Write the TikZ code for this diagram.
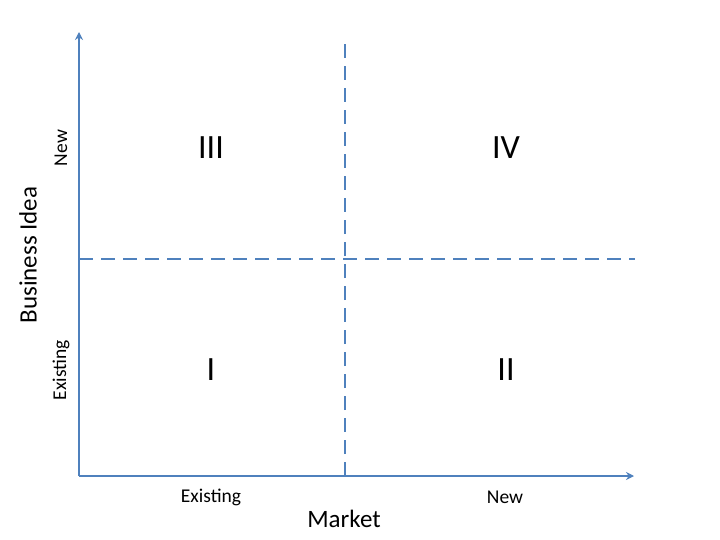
\documentclass[tikz,border=0pt]{standalone}
\usepackage{fontspec}
\setmainfont{Carlito}
\usetikzlibrary{arrows.meta,positioning}
\definecolor{AxisBlue}{HTML}{4F81BD}

\begin{document}
\begin{tikzpicture}[
          x=1pt, y=-1pt,
          axis/.style={-{Stealth[length=8pt,width=8pt]}, line width=2pt, draw=AxisBlue},
          divider/.style={line width=2pt, draw=AxisBlue, dash pattern=on 14pt off 8pt},
          quadrant/.style={font=\fontsize{34}{40}\selectfont, inner sep=0pt},
          ticklabel/.style={font=\fontsize{19.5}{23}\selectfont, inner sep=0pt},
          axislabel/.style={font=\fontsize{25}{30}\selectfont, inner sep=0pt}
        ]
          \useasboundingbox (0,0) rectangle (720,540);

          % Corner points
          \coordinate (origin) at (79,476);
          \coordinate (ytop) at (79,32);
          \coordinate (xend) at (634,476);
          \coordinate (vtop) at (345,43);
          \coordinate (vbot) at (345,476);
          \coordinate (hleft) at (79,259);
          \coordinate (hright) at (635,259);

          % Dividers
          \draw[divider] (vbot) -- (vtop);
          \draw[divider] (hleft) -- (hright);

          % Axes
          \draw[axis] (origin) -- (ytop);
          \draw[axis] (origin) -- (xend);

          % Quadrants
          \node[quadrant] (q3) at (211,148) {III};
          \node[quadrant] (q4) at (506,148) {IV};
          \node[quadrant] (q1) at (211,370) {I};
          \node[quadrant] (q2) at (506,370) {II};

          % Market axis labels
          \node[ticklabel] (mexist) at (211,497) {Existing};
          \node[ticklabel] (mnew) at (505,497) {New};
          \node[axislabel] (market) at (344,519) {Market};

          % Business idea axis labels
          \node[ticklabel, rotate=90] (bnew) at (61,148) {New};
          \node[ticklabel, rotate=90] (bexist) at (61,370) {Existing};
          \node[axislabel, rotate=90] (idea) at (28,255) {Business Idea};

        \end{tikzpicture}
\end{document}
